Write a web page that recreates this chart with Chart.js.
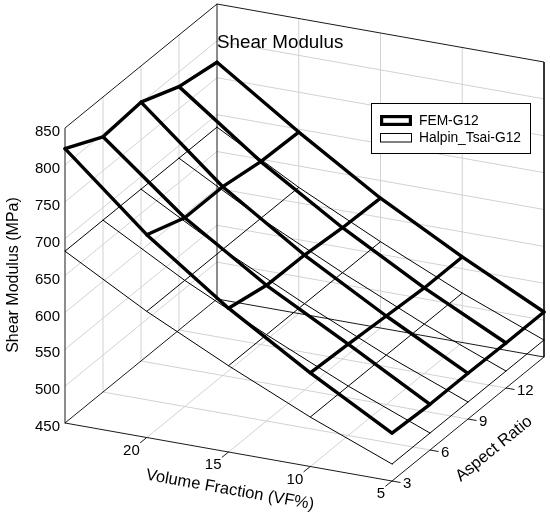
<!DOCTYPE html>
<html>
<head>
<meta charset="utf-8">
<script src="https://cdn.jsdelivr.net/npm/chart.js@4.4.0/dist/chart.umd.min.js"></script>
<style>
html,body{margin:0;padding:0;background:#fff;}
#wrap{width:550px;height:519px;position:relative;}
</style>
</head>
<body>
<div id="wrap"><canvas id="c" width="550" height="519"></canvas></div>
<script>
// ---------------- DATA ----------------
const volumeFraction = [5, 10, 15, 20, 25];          // VF %
const aspectRatio    = [3, 6, 9, 12, 15];
// rows: aspect ratio, columns: volume fraction
const femG12 = [
  [515, 577, 645, 725, 822],
  [512, 574, 634, 706, 796],
  [512, 570, 633, 706, 801],
  [511, 566, 628, 698, 780],
  [511, 566, 626, 696, 771]
];
const halpinTsaiG12 = [
  [473, 517, 567, 621, 683],
  [473, 517, 567, 621, 683],
  [473, 517, 567, 621, 683],
  [473, 517, 567, 621, 683],
  [473, 517, 567, 621, 683]
];
const vfTicks = [20, 15, 10, 5];
const arTicks = [3, 6, 9, 12];
const zTicks  = [450, 500, 550, 600, 650, 700, 750, 800, 850];
const vfGrid  = [20, 15, 10];
const arGrid  = [6, 9, 12];
const seriesNames = ['FEM-G12', 'Halpin_Tsai-G12'];

// ---------------- 3D axis box (layout) ----------------
const VF_MIN = 5, VF_MAX = 25, AR_MIN = 3, AR_MAX = 15, Z_MIN = 450, Z_MAX = 850;
const ORIGIN  = {x: 65, y: 423};    // screen position of VF=25, AR=3, G=450
const VF_SPAN = {x: 327, y: 58};    // VF 25 -> 5
const AR_SPAN = {x: 152, y: -124};  // AR 3 -> 15
const Z_SPAN  = 295;                // G 450 -> 850

function proj(vf, ar, z) {
  const u = (VF_MAX - vf) / (VF_MAX - VF_MIN);
  const v = (ar - AR_MIN) / (AR_MAX - AR_MIN);
  const w = (z - Z_MIN) / (Z_MAX - Z_MIN);
  return {x: ORIGIN.x + u * VF_SPAN.x + v * AR_SPAN.x,
          y: ORIGIN.y + u * VF_SPAN.y + v * AR_SPAN.y - w * Z_SPAN};
}

const datasets = [];
function addLine(pts, color, width, order) {
  datasets.push({
    data: pts.map(p => proj(p[0], p[1], p[2])),
    showLine: true, pointRadius: 0, pointHoverRadius: 0,
    borderColor: color, borderWidth: width, fill: false, tension: 0,
    borderJoinStyle: 'round', borderCapStyle: 'round',
    order: order, clip: false
  });
}

// FEM surface (thick)
aspectRatio.forEach((ar, i) => addLine(volumeFraction.map((vf, j) => [vf, ar, femG12[i][j]]), '#000', 3.4, 0));
volumeFraction.forEach((vf, j) => addLine(aspectRatio.map((ar, i) => [vf, ar, femG12[i][j]]), '#000', 3.4, 0));
// Halpin-Tsai surface (thin)
aspectRatio.forEach((ar, i) => addLine(volumeFraction.map((vf, j) => [vf, ar, halpinTsaiG12[i][j]]), '#000', 1, 1));
volumeFraction.forEach((vf, j) => addLine(aspectRatio.map((ar, i) => [vf, ar, halpinTsaiG12[i][j]]), '#000', 1, 1));

// box edges
const BK = '#1a1a1a';
addLine([[VF_MAX, AR_MIN, Z_MIN], [VF_MAX, AR_MIN, Z_MAX], [VF_MAX, AR_MAX, Z_MAX], [VF_MIN, AR_MAX, Z_MAX], [VF_MIN, AR_MAX, Z_MIN]], BK, 1, 2);
addLine([[VF_MAX, AR_MAX, Z_MIN], [VF_MAX, AR_MAX, Z_MAX]], BK, 1, 2);
addLine([[VF_MAX, AR_MIN, Z_MIN], [VF_MIN, AR_MIN, Z_MIN], [VF_MIN, AR_MAX, Z_MIN], [VF_MAX, AR_MAX, Z_MIN], [VF_MAX, AR_MIN, Z_MIN]], BK, 1, 2);
// tick marks
vfTicks.forEach(vf => addLine([[vf, AR_MIN, Z_MIN], [vf, AR_MIN - 0.5, Z_MIN]], BK, 1, 2));
arTicks.forEach(ar => addLine([[VF_MIN, ar, Z_MIN], [VF_MIN - 0.5, ar, Z_MIN]], BK, 1, 2));

// gray grid lines on walls and floor
const GR = '#d2d2d2';
zTicks.filter(z => z > Z_MIN && z < Z_MAX).forEach(z => {
  addLine([[VF_MAX, AR_MIN, z], [VF_MAX, AR_MAX, z], [VF_MIN, AR_MAX, z]], GR, 1, 3);
});
arGrid.forEach(ar => {
  addLine([[VF_MAX, ar, Z_MIN], [VF_MAX, ar, Z_MAX]], GR, 1, 3);
  addLine([[VF_MAX, ar, Z_MIN], [VF_MIN, ar, Z_MIN]], GR, 1, 3);
});
vfGrid.forEach(vf => {
  addLine([[vf, AR_MAX, Z_MIN], [vf, AR_MAX, Z_MAX]], GR, 1, 3);
  addLine([[vf, AR_MIN, Z_MIN], [vf, AR_MAX, Z_MIN]], GR, 1, 3);
});

// ---------------- text plugin ----------------
const FONT = '"Liberation Sans", Arial, Helvetica, sans-serif';
const textPlugin = {
  id: 'labels3d',
  afterDatasetsDraw(chart) {
    const ctx = chart.ctx;
    const sx = v => chart.scales.x.getPixelForValue(v);
    const sy = v => chart.scales.y.getPixelForValue(v);
    ctx.save();
    ctx.fillStyle = '#000';
    // z tick labels
    ctx.font = '15px ' + FONT;
    ctx.textAlign = 'right'; ctx.textBaseline = 'middle';
    zTicks.forEach(z => { const p = proj(VF_MAX, AR_MIN, z); ctx.fillText(String(z), sx(p.x) - 5, sy(p.y) + 4); });
    // VF tick labels
    vfTicks.forEach(vf => { const p = proj(vf, AR_MIN, Z_MIN); ctx.fillText(String(vf), sx(p.x) - 7, sy(p.y) + 13); });
    // AR tick labels
    ctx.textAlign = 'left';
    arTicks.forEach(ar => { const p = proj(VF_MIN, ar, Z_MIN); ctx.fillText(String(ar), sx(p.x) + 11, sy(p.y) + 3); });

    // axis titles
    ctx.font = '16px ' + FONT;
    ctx.textAlign = 'center'; ctx.textBaseline = 'middle';
    ctx.save(); ctx.translate(14, 275); ctx.rotate(-Math.PI / 2); ctx.fillText('Shear Modulus (MPa)', 0, 0); ctx.restore();
    ctx.font = '16.5px ' + FONT;
    ctx.save(); ctx.translate(230, 490); ctx.rotate(Math.atan2(VF_SPAN.y, VF_SPAN.x)); ctx.fillText('Volume Fraction (VF%)', 0, 0); ctx.restore();
    ctx.save(); ctx.translate(494, 449); ctx.rotate(Math.atan2(AR_SPAN.y, AR_SPAN.x)); ctx.fillText('Aspect Ratio', 0, 0); ctx.restore();

    // title
    ctx.font = '18.8px ' + FONT;
    ctx.textAlign = 'left';
    ctx.fillText('Shear Modulus', 217, 43);

    // legend
    ctx.fillStyle = '#fff';
    ctx.fillRect(371.5, 103.5, 159, 50);
    ctx.strokeStyle = '#000'; ctx.lineWidth = 1;
    ctx.strokeRect(371.5, 103.5, 159, 50);
    ctx.lineWidth = 3.2; ctx.strokeRect(381.6, 116.6, 28.8, 7.8);
    ctx.lineWidth = 1; ctx.strokeRect(380.5, 133.5, 31, 8.5);
    ctx.fillStyle = '#000';
    ctx.font = '13.8px ' + FONT;
    ctx.textBaseline = 'middle';
    ctx.fillText(seriesNames[0], 419, 121);
    ctx.fillText(seriesNames[1], 419, 138);
    ctx.restore();
  }
};

new Chart(document.getElementById('c'), {
  type: 'scatter',
  data: {datasets},
  options: {
    responsive: false, animation: false,
    layout: {padding: 0},
    plugins: {legend: {display: false}, tooltip: {enabled: false}, title: {display: false}},
    events: [],
    scales: {
      x: {type: 'linear', min: 0, max: 550, display: false},
      y: {type: 'linear', min: 0, max: 519, reverse: true, display: false}
    }
  },
  plugins: [textPlugin]
});
</script>
</body>
</html>
